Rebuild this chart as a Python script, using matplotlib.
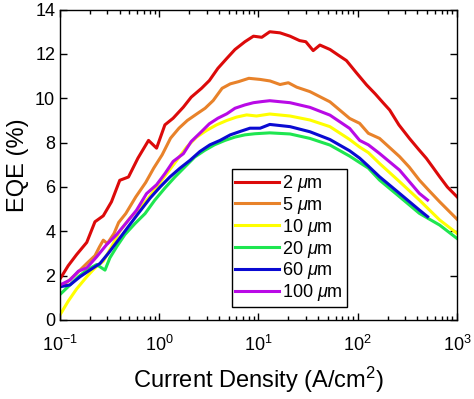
import matplotlib
matplotlib.use('Agg')
import matplotlib.pyplot as plt

plt.rcParams['font.family'] = ['Liberation Sans', 'DejaVu Sans']
plt.rcParams['mathtext.fontset'] = 'custom'
plt.rcParams['mathtext.rm'] = 'Liberation Sans'
plt.rcParams['mathtext.it'] = 'Liberation Sans:italic'
plt.rcParams['axes.unicode_minus'] = False

# data (current density in A/cm2, EQE in %)
j_2um = [0.1, 0.121, 0.147, 0.186, 0.225, 0.273, 0.33, 0.40, 0.49, 0.61, 0.78, 0.94,
         1.14, 1.38, 1.75, 2.1, 2.67, 3.2, 3.9, 4.8, 5.8, 7.3, 8.9, 10.8, 13.0, 16.5,
         20.8, 26, 30, 35.6, 41.6, 52.6, 63.5, 77, 97, 123, 150, 180, 210, 260, 332,
         410, 492, 580, 670, 800, 1000]
eqe_2um = [1.85, 2.45, 2.95, 3.5, 4.43, 4.7, 5.33, 6.3, 6.45, 7.3, 8.1, 7.75,
           8.8, 9.1, 9.6, 10.05, 10.45, 10.8, 11.35, 11.8, 12.2, 12.55, 12.8, 12.75, 13.0, 12.95,
           12.8, 12.6, 12.55, 12.15, 12.4, 12.2, 11.95, 11.7, 11.15, 10.6, 10.2, 9.8, 9.47, 8.8, 8.19,
           7.7, 7.29, 6.85, 6.46, 6.0, 5.56]

j_5um = [0.1, 0.121, 0.147, 0.186, 0.225, 0.25, 0.273, 0.30, 0.35, 0.39, 0.46, 0.58,
         0.73, 0.88, 1.07, 1.3, 1.58, 1.92, 2.4, 2.9, 3.5, 4.3, 5.2, 6.3, 8.0, 10.4,
         13.1, 16.5, 20, 24.3, 33, 52.5, 83, 104.6, 128, 166, 264, 330, 418, 520, 670, 1000]
eqe_5um = [1.5, 1.75, 2.1, 2.55, 2.9, 3.3, 3.6, 3.45, 3.9, 4.4, 4.8, 5.55,
           6.2, 6.85, 7.45, 8.2, 8.65, 9.0, 9.3, 9.55, 9.9, 10.45, 10.65, 10.75, 10.9, 10.85,
           10.78, 10.62, 10.7, 10.5, 10.3, 9.84, 9.09, 8.87, 8.42, 8.19, 7.37, 6.9, 6.31, 5.85, 5.33, 4.55]

j_10um = [0.1, 0.121, 0.147, 0.186, 0.225, 0.273, 0.33, 0.40, 0.506, 0.64, 0.78, 0.94,
          1.19, 1.5, 1.89, 2.38, 3.0, 3.78, 4.8, 6.0, 7.6, 9.55, 13.0, 20.8, 33, 52.5,
          83, 104.6, 128, 166, 264, 418, 670, 1000]
eqe_10um = [0.23, 0.85, 1.4, 1.95, 2.35, 2.65, 3.3, 4.0, 4.6, 5.05, 5.5, 6.0,
            6.6, 7.2, 7.8, 8.25, 8.55, 8.8, 9.0, 9.15, 9.25, 9.2, 9.29, 9.2, 9.02, 8.72,
            8.14, 7.8, 7.55, 7.06, 6.24, 5.41, 4.51, 3.91]

j_20um = [0.1, 0.126, 0.153, 0.186, 0.234, 0.284, 0.318, 0.372, 0.45, 0.57, 0.72, 0.90,
          1.14, 1.44, 1.81, 2.28, 2.87, 3.6, 4.6, 5.8, 7.3, 9.2, 13.0, 20.8, 33, 52.5,
          83, 104.6, 128, 166, 264, 418, 670, 1000]
eqe_20um = [1.15, 1.58, 1.95, 2.25, 2.5, 2.25, 2.8, 3.3, 3.85, 4.35, 4.8, 5.4,
            5.95, 6.45, 6.9, 7.35, 7.65, 7.9, 8.1, 8.25, 8.35, 8.4, 8.44, 8.39, 8.19, 7.89,
            7.39, 7.1, 6.85, 6.31, 5.56, 4.81, 4.28, 3.68]

j_60um = [0.1, 0.126, 0.159, 0.2, 0.253, 0.306, 0.386, 0.486, 0.613, 0.81, 1.02, 1.28,
          1.62, 2.04, 2.57, 3.24, 4.1, 5.2, 6.5, 8.2, 10.4, 13.0, 20.8, 33, 52.5, 83,
          104.6, 128, 166, 264, 418, 506]
eqe_60um = [1.5, 1.58, 1.95, 2.25, 2.55, 3.0, 3.6, 4.2, 4.8, 5.5, 6.0, 6.45,
            6.85, 7.2, 7.6, 7.9, 8.1, 8.35, 8.5, 8.65, 8.65, 8.82, 8.72, 8.49, 8.14, 7.63,
            7.3, 6.94, 6.46, 5.71, 4.96, 4.66]

j_100um = [0.1, 0.126, 0.153, 0.186, 0.234, 0.295, 0.372, 0.469, 0.59, 0.745, 0.94, 1.14,
           1.38, 1.75, 2.1, 2.67, 3.2, 3.9, 4.8, 5.8, 7.3, 8.9, 10.8, 13.0, 20.8, 33,
           52.5, 83, 104.6, 128, 166, 264, 418, 506]
eqe_100um = [1.58, 1.8, 2.2, 2.35, 2.85, 3.4, 3.85, 4.4, 4.95, 5.7, 6.1, 6.6,
             7.15, 7.5, 8.05, 8.5, 8.85, 9.1, 9.3, 9.55, 9.7, 9.8, 9.85, 9.89, 9.8, 9.59,
             9.24, 8.64, 8.1, 7.9, 7.51, 6.76, 5.71, 5.41]

labels = [r'2 $\mu$m', r'5 $\mu$m', r'10 $\mu$m', r'20 $\mu$m', r'60 $\mu$m', r'100 $\mu$m']
colors = ['#dc0a0a', '#e8822a', '#ffff00', '#1ee650', '#0a0ad2', '#b90ae6']

series = [(j_2um, eqe_2um), (j_5um, eqe_5um), (j_10um, eqe_10um),
          (j_20um, eqe_20um), (j_60um, eqe_60um), (j_100um, eqe_100um)]

fig = plt.figure(figsize=(4.74, 3.99), dpi=100)
ax = fig.add_axes([0.1266, 0.198, 0.8374, 0.778])

for (x, y), lab, c in zip(series, labels, colors):
    ax.plot(x, y, color=c, lw=2.2, label=lab)

ax.set_xscale('log')
ax.set_xlim(0.1, 1000)
ax.set_ylim(0, 14)
ax.set_yticks(range(0, 15, 2))

# matlab style box, ticks inside on every side
for s in ax.spines.values():
    s.set_linewidth(1.0)
ax.tick_params(which='both', direction='in', top=True, right=True, labelsize=13, width=1.0)
ax.tick_params(which='major', length=5)
ax.tick_params(which='minor', length=3)
ax.tick_params(axis='x', pad=11)

ax.set_xlabel('Current Density (A/cm$^2$)', fontsize=17, labelpad=7)
ax.set_ylabel('EQE (%)', fontsize=17, labelpad=4)

leg = ax.legend(loc='lower left', bbox_to_anchor=(0.433, 0.042), borderaxespad=0,
                fontsize=13, fancybox=False, framealpha=1, edgecolor='black',
                handlelength=2.4, handletextpad=0.2, labelspacing=0.05, borderpad=0.2)
leg.get_frame().set_linewidth(1.0)

plt.savefig('out.png', dpi=100)
